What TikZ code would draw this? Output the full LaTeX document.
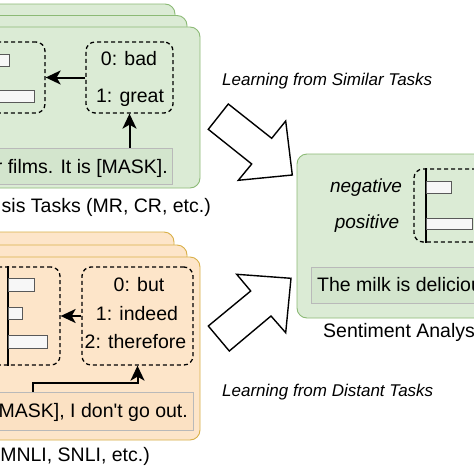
\documentclass[tikz,border=0pt]{standalone}
\usepackage{fontspec}
\setmainfont{Liberation Sans}[Ligatures=TeXOff]
\usetikzlibrary{arrows.meta}
\definecolor{gfill}{RGB}{219,235,213}
\definecolor{gline}{RGB}{140,186,118}
\definecolor{gbox}{RGB}{211,229,205}
\definecolor{ofill}{RGB}{253,229,201}
\definecolor{oline}{RGB}{217,176,72}
\definecolor{obox}{RGB}{251,225,195}
\tikzset{
  card/.style={rectangle, rounded corners=10pt, line width=0.9pt, inner sep=0pt},
  gcard/.style={card, fill=gfill, draw=gline},
  ocard/.style={card, fill=ofill, draw=oline},
  dbox/.style={rectangle, rounded corners=9pt, draw=black, line width=1.3pt, dash pattern=on 4pt off 3pt, inner sep=0pt},
  inbox/.style={rectangle, draw=gray!55, line width=1pt, inner sep=0pt},
  bar/.style={rectangle, draw=gray!70!black, fill=gray!6, line width=1pt, inner sep=0pt},
  arr/.style={line width=2pt, -{Stealth[length=15pt,width=14pt,inset=4pt]}},
  axisline/.style={line width=1.5pt, black},
  blockarrow/.style={draw=black, fill=white, line width=1.4pt, line join=miter},
  txt/.style={inner sep=0pt, font=\fontsize{19.5}{23}\selectfont},
  itxt/.style={inner sep=0pt, font=\fontsize{17}{20}\selectfont\itshape},
  ilab/.style={inner sep=0pt, font=\fontsize{19}{22}\selectfont\itshape},
}
\begin{document}
\begin{tikzpicture}[x=1pt, y=-1pt]
\useasboundingbox (0,0) rectangle (474,474);
\clip (0,0) rectangle (474,474);
\fill[white] (0,0) rectangle (474,474);

% ---------- green stack (similar tasks) ----------
\node[gcard, minimum width=215pt, minimum height=161pt] (gc1) at (67.5,84.5) {};
\node[gcard, minimum width=215pt, minimum height=161pt] (gc2) at (79.5,96) {};
\node[gcard, minimum width=215pt, minimum height=161pt] (gc3) at (92.5,107.5) {};

\node[dbox, minimum width=95pt, minimum height=71pt] (gprobs) at (-2.5,77.5) {};
\node[bar, minimum width=29pt, minimum height=12pt] (gbar1) at (-5.5,60) {};
\node[bar, minimum width=54pt, minimum height=12pt] (gbar2) at (7,96) {};

\node[dbox, minimum width=87pt, minimum height=71pt] (gverb) at (129.5,77.5) {};
\node[txt, anchor=base] (gv0) at (129,65) {0: bad};
\node[txt, anchor=base] (gv1) at (130,102) {1: great};

\node[inbox, fill=gbox, minimum width=232pt, minimum height=36pt] (ginput) at (56,166) {};
\node[txt, anchor=base east] (gin) at (168,173) {r films. It is [MASK].};

\draw[arr] (gverb.west) -- (gprobs.east);
\draw[arr] (ginput.north -| gverb.south) -- (gverb.south);

\node[txt, anchor=base east] (glab) at (211,212) {sis Tasks (MR, CR, etc.)};

% ---------- orange stack (distant tasks) ----------
\node[ocard, minimum width=214pt, minimum height=183pt] (oc1) at (67,323.5) {};
\node[ocard, minimum width=214pt, minimum height=183pt] (oc2) at (80,336.5) {};
\node[ocard, minimum width=214pt, minimum height=183pt] (oc3) at (93,348.5) {};

\node[dbox, minimum width=110pt, minimum height=98pt] (oprobs) at (5,316) {};
\coordinate (oaxis) at (8,0);
\draw[axisline] (oprobs.north -| oaxis) -- (oprobs.south -| oaxis);
\node[bar, minimum width=26pt, minimum height=13pt] (obar1) at (21,284.5) {};
\node[bar, minimum width=14pt, minimum height=12pt] (obar2) at (15,313) {};
\node[bar, minimum width=39pt, minimum height=13pt] (obar3) at (27.5,341.5) {};

\node[dbox, minimum width=111pt, minimum height=98pt] (overb) at (137.5,316) {};
\node[txt, anchor=base] (ov0) at (139,291) {0: but};
\node[txt, anchor=base] (ov1) at (137,320) {1: indeed};
\node[txt, anchor=base] (ov2) at (135.5,348) {2: therefore};

\node[inbox, fill=obox, minimum width=253pt, minimum height=38pt] (oinput) at (66.5,411) {};
\node[txt, anchor=base east] (oin) at (188,417) {[MASK], I don't go out.};

\draw[arr] (overb.west) -- (oprobs.east);
\coordinate (oturn) at (33,0);
\draw[arr] (oinput.north -| oturn) -- ++(0,-9) -| (overb.south);

\node[txt, anchor=base east] (olab) at (150,461) {MNLI, SNLI, etc.)};

% ---------- block arrows ----------
\draw[blockarrow] (228.3,104) -- (271.7,138.3) -- (285.7,121) -- (292.3,175) -- (238.3,180.3) -- (251.7,164) -- (208.3,129.3) -- cycle;
\draw[blockarrow] (236.7,274.3) -- (291,278.3) -- (285.7,332.7) -- (271,316) -- (229.3,351) -- (208.3,326) -- (250.7,291) -- cycle;

\node[itxt, anchor=base west] (lsim) at (222,85) {Learning from Similar Tasks};
\node[itxt, anchor=base west] (ldis) at (222,396) {Learning from Distant Tasks};

% ---------- target task ----------
\node[gcard, minimum width=243pt, minimum height=164pt] (tc) at (418.5,236) {};
\node[ilab, anchor=base] (tneg) at (366,192) {negative};
\node[ilab, anchor=base] (tpos) at (367,228) {positive};

\node[dbox, minimum width=120pt, minimum height=73pt] (tprobs) at (474,205.5) {};
\coordinate (taxis) at (426,0);
\draw[axisline] (tprobs.north -| taxis) -- (tprobs.south -| taxis);
\node[bar, minimum width=25pt, minimum height=12pt] (tbar1) at (438.5,187) {};
\node[bar, minimum width=46pt, minimum height=11pt] (tbar2) at (449,223.5) {};

\node[inbox, fill=gbox, minimum width=200pt, minimum height=36pt] (tinput) at (411,285) {};
\node[txt, anchor=base west] (tin) at (317,291) {The milk is deliciou};

\node[txt, anchor=base west] (tlab) at (323,337) {Sentiment Analys};
\end{tikzpicture}
\end{document}
